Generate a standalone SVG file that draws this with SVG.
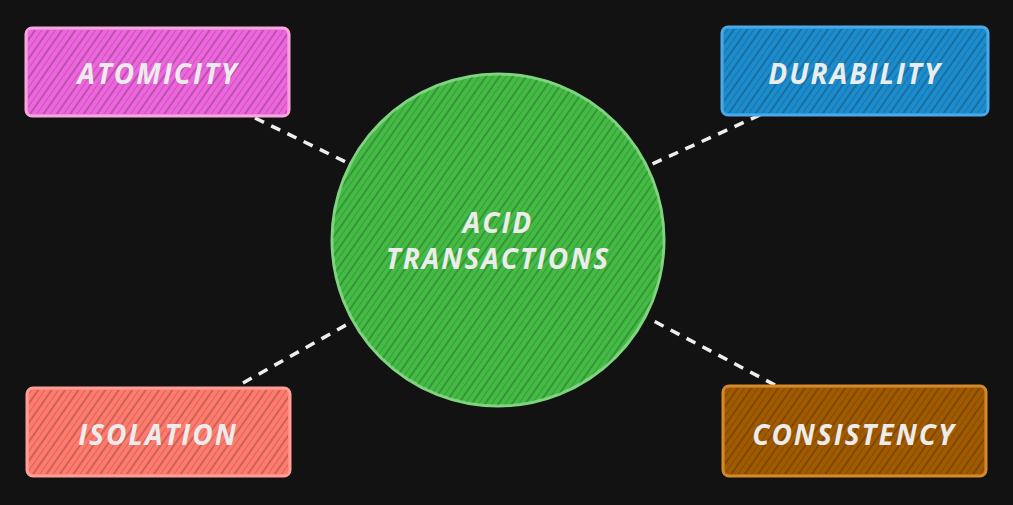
<svg xmlns="http://www.w3.org/2000/svg" width="1013" height="505" viewBox="0 0 1013 505">
<style>
.lbl{font-family:"Open Sans","Liberation Sans",sans-serif;font-weight:700;font-style:italic;fill:#ececec;text-anchor:middle;dominant-baseline:central;letter-spacing:2px}
.box{stroke-width:3;stroke-linejoin:round}
.conn{stroke:#eeeeee;stroke-width:3.5;stroke-dasharray:10 8;fill:none}
</style>
<defs>
<pattern id="hatch" width="11" height="11" patternUnits="userSpaceOnUse" patternTransform="rotate(-55)">
<line x1="0" y1="2" x2="11" y2="2" stroke="#000" stroke-opacity="0.45" stroke-width="0.9"/>
<line x1="0" y1="7.5" x2="11" y2="7.5" stroke="#000" stroke-opacity="0.25" stroke-width="0.7"/>
</pattern>
</defs>
<rect width="1013" height="505" fill="#121212"/>
<g id="connectors">
<line class="conn" x1="255" y1="118" x2="348" y2="163"/>
<line class="conn" x1="760" y1="115" x2="650" y2="165"/>
<line class="conn" x1="243" y1="383" x2="355" y2="320"/>
<line class="conn" x1="775" y1="385" x2="648" y2="318"/>
</g>
<g id="center">
<circle cx="498" cy="240" r="166" fill="#44bb44" stroke="#7fd47f" stroke-width="3"/>
<circle cx="498" cy="240" r="165" fill="url(#hatch)"/>
<text class="lbl" x="498" y="222" font-size="28">ACID</text>
<text class="lbl" x="498" y="258" font-size="28">TRANSACTIONS</text>
</g>
<g id="atomicity">
<rect class="box" x="26" y="28" width="263" height="88" rx="6" fill="#ee66dd" stroke="#f7a6df"/>
<rect x="28" y="30" width="259" height="84" fill="url(#hatch)"/>
<text class="lbl" x="158" y="73" font-size="28">ATOMICITY</text>
</g>
<g id="durability">
<rect class="box" x="722" y="27" width="266" height="88" rx="6" fill="#1c8ccc" stroke="#4aa9e8"/>
<rect x="724" y="29" width="262" height="84" fill="url(#hatch)"/>
<text class="lbl" x="855" y="73" font-size="28">DURABILITY</text>
</g>
<g id="isolation">
<rect class="box" x="27" y="388" width="263" height="88" rx="6" fill="#ff7b6e" stroke="#ff9e95"/>
<rect x="29" y="390" width="259" height="84" fill="url(#hatch)"/>
<text class="lbl" x="158" y="434" font-size="28">ISOLATION</text>
</g>
<g id="consistency">
<rect class="box" x="723" y="386" width="263" height="90" rx="6" fill="#a05a00" stroke="#d4892a"/>
<rect x="725" y="388" width="259" height="86" fill="url(#hatch)"/>
<text class="lbl" x="854" y="434" font-size="28">CONSISTENCY</text>
</g>
</svg>
